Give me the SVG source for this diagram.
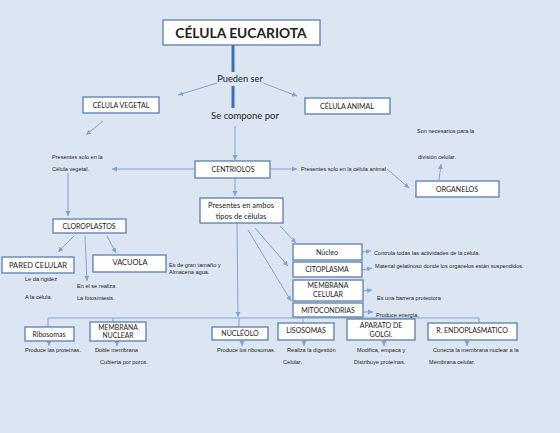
<svg xmlns="http://www.w3.org/2000/svg" width="560" height="433" viewBox="0 0 560 433">
<defs>
<style>
.bg{fill:#dce6f2}
.box{fill:#ffffff;stroke:#5a7fae;stroke-width:1.3}
.t{font-family:Lato,"Open Sans","Liberation Sans",sans-serif;fill:#222;text-anchor:middle}
.s{font-family:"Liberation Sans",Arial,sans-serif;font-size:5.6px;fill:#222}
.c{fill:none;stroke:#7ea4d4;stroke-width:1}
.k{fill:none;stroke:#3f6fb0;stroke-width:3}
</style>
<marker id="a" markerWidth="6" markerHeight="6" refX="5" refY="3" orient="auto" markerUnits="userSpaceOnUse">
<path d="M0,0.5 L5,3 L0,5.5 Z" fill="#7ea4d4"/>
</marker>
</defs>
<rect class="bg" x="0" y="0" width="560" height="433"/>

<g id="connectors">
<line class="k" x1="233" y1="45" x2="233" y2="72"/>
<line class="k" x1="233" y1="86" x2="233" y2="108"/>
<line class="c" x1="217" y1="83" x2="178" y2="95" marker-end="url(#a)"/>
<line class="c" x1="263" y1="83" x2="297" y2="96" marker-end="url(#a)"/>
<line class="c" x1="103" y1="121" x2="86" y2="135" marker-end="url(#a)"/>
<line class="c" x1="235" y1="126" x2="235" y2="160" marker-end="url(#a)"/>
<line class="c" x1="195" y1="169" x2="112" y2="169" marker-end="url(#a)"/>
<line class="c" x1="270" y1="169" x2="297" y2="169" marker-end="url(#a)"/>
<line class="c" x1="387" y1="169" x2="409" y2="188" marker-end="url(#a)"/>
<line class="c" x1="439" y1="180" x2="441" y2="164" marker-end="url(#a)"/>
<line class="c" x1="68" y1="173" x2="68" y2="216" marker-end="url(#a)"/>
<line class="c" x1="235" y1="178" x2="235" y2="196" marker-end="url(#a)"/>
<line class="c" x1="74" y1="236" x2="58" y2="252" marker-end="url(#a)"/>
<line class="c" x1="85" y1="236" x2="87" y2="281" marker-end="url(#a)"/>
<line class="c" x1="107" y1="236" x2="116" y2="253" marker-end="url(#a)"/>
<line class="c" x1="280" y1="226" x2="296" y2="243" marker-end="url(#a)"/>
<line class="c" x1="255" y1="228" x2="288" y2="266" marker-end="url(#a)"/>
<line class="c" x1="248" y1="230" x2="291" y2="301" marker-end="url(#a)"/>
<line class="c" x1="237" y1="223" x2="238" y2="317" marker-end="url(#a)"/>
<line class="c" x1="362" y1="252" x2="371" y2="251" marker-end="url(#a)"/>
<line class="c" x1="362" y1="270" x2="372" y2="268" marker-end="url(#a)"/>
<line class="c" x1="363" y1="291" x2="372" y2="290" marker-end="url(#a)"/>
<line class="c" x1="363" y1="312" x2="373" y2="312" marker-end="url(#a)"/>
<line class="c" x1="48" y1="318" x2="479" y2="318"/>
<line class="c" x1="48" y1="318" x2="48" y2="327"/>
<line class="c" x1="113" y1="318" x2="113" y2="322"/>
<line class="c" x1="239" y1="318" x2="239" y2="327"/>
<line class="c" x1="303" y1="318" x2="303" y2="323"/>
<line class="c" x1="479" y1="318" x2="479" y2="323"/>
<line class="c" x1="49" y1="341" x2="49" y2="346" marker-end="url(#a)"/>
<line class="c" x1="117" y1="341" x2="117" y2="346" marker-end="url(#a)"/>
<line class="c" x1="242" y1="340" x2="242" y2="346" marker-end="url(#a)"/>
<line class="c" x1="304" y1="340" x2="304" y2="346" marker-end="url(#a)"/>
<line class="c" x1="384" y1="340" x2="384" y2="346" marker-end="url(#a)"/>
<line class="c" x1="467" y1="340" x2="467" y2="346" marker-end="url(#a)"/>
</g>

<g id="title"><rect class="box" x="163" y="20" width="157" height="25"/><text class="t" x="241" y="38" font-size="13.8" font-weight="bold">CÉLULA EUCARIOTA</text></g>
<g id="pueden"><text class="t" x="240" y="82" font-size="9.3">Pueden ser</text></g>
<g id="secompone"><text class="t" x="245" y="119" font-size="9.5">Se compone por</text></g>
<g id="vegetal"><rect class="box" x="83" y="97" width="76" height="16"/><text class="t" x="121" y="108" font-size="7">CÉLULA VEGETAL</text></g>
<g id="animal"><rect class="box" x="305" y="98" width="85" height="16"/><text class="t" x="347" y="109" font-size="7">CÉLULA ANIMAL</text></g>
<g id="centriolos"><rect class="box" x="195" y="161" width="75" height="17"/><text class="t" x="233" y="172" font-size="7">CENTRIOLOS</text></g>
<g id="organelos"><rect class="box" x="416" y="181" width="83" height="16"/><text class="t" x="457" y="192" font-size="7">ORGANELOS</text></g>
<g id="ambos"><rect class="box" x="200" y="198" width="83" height="25"/><text class="t" x="241" y="208" font-size="7.5">Presentes en ambos</text><text class="t" x="241" y="219" font-size="7.5">tipos de células</text></g>
<g id="cloroplastos"><rect class="box" x="53" y="219" width="73" height="14"/><text class="t" x="89" y="229" font-size="7">CLOROPLASTOS</text></g>
<g id="pared"><rect class="box" x="2" y="257" width="72" height="16"/><text class="t" x="38" y="268" font-size="7.5">PARED CELULAR</text></g>
<g id="vacuola"><rect class="box" x="93" y="255" width="73" height="17"/><text class="t" x="130" y="265" font-size="7.5">VACUOLA</text></g>
<g id="nucleo"><rect class="box" x="293" y="244" width="69" height="16"/><text class="t" x="327" y="255" font-size="7">Núcleo</text></g>
<g id="citoplasma"><rect class="box" x="293" y="262" width="69" height="15"/><text class="t" x="327" y="272" font-size="7">CITOPLASMA</text></g>
<g id="membrana"><rect class="box" x="293" y="280" width="70" height="21"/><text class="t" x="328" y="288" font-size="7">MEMBRANA</text><text class="t" x="328" y="297" font-size="7">CELULAR</text></g>
<g id="mitocondrias"><rect class="box" x="293" y="303" width="70" height="14"/><text class="t" x="328" y="313" font-size="7">MITOCONDRIAS</text></g>
<g id="ribosomas"><rect class="box" x="25" y="327" width="49" height="14"/><text class="t" x="49" y="337" font-size="7">Ribosomas</text></g>
<g id="membrananuclear"><rect class="box" x="90" y="322" width="56" height="19"/><text class="t" x="118" y="330" font-size="6.8">MEMBRANA</text><text class="t" x="118" y="338" font-size="6.8">NUCLEAR</text></g>
<g id="nucleolo"><rect class="box" x="212" y="327" width="56" height="13"/><text class="t" x="240" y="336" font-size="7">NUCLÉOLO</text></g>
<g id="lisosomas"><rect class="box" x="278" y="323" width="56" height="17"/><text class="t" x="306" y="333" font-size="7">LISOSOMAS</text></g>
<g id="golgi"><rect class="box" x="347" y="319" width="68" height="21"/><text class="t" x="381" y="328" font-size="7">APARATO DE</text><text class="t" x="381" y="337" font-size="7">GOLGI.</text></g>
<g id="reticulo"><rect class="box" x="428" y="323" width="89" height="17"/><text class="t" x="472" y="333" font-size="7">R. ENDOPLASMATICO</text></g>

<g id="texts">
<text class="s" x="52" y="159">Presentes solo en la</text>
<text class="s" x="52" y="171">Célula vegetal.</text>
<text class="s" x="301" y="171">Presentes solo en la célula animal</text>
<text class="s" x="417" y="133">Son necesarios para la</text>
<text class="s" x="418" y="159">división celular.</text>
<text class="s" x="169" y="267">Es de gran tamaño y</text>
<text class="s" x="169" y="274">Almacena agua.</text>
<text class="s" x="25" y="281">Le da rigidez</text>
<text class="s" x="25" y="299">A la célula.</text>
<text class="s" x="77" y="288">En el se realiza</text>
<text class="s" x="77" y="300">La fotosíntesis.</text>
<text class="s" x="374" y="255">Controla todas las actividades de la célula.</text>
<text class="s" x="375" y="268">Material gelatinoso donde los organelos están suspendidos.</text>
<text class="s" x="377" y="300">Es una barrera protectora</text>
<text class="s" x="376" y="317">Produce energía.</text>
<text class="s" x="25" y="352">Produce las proteínas.</text>
<text class="s" x="95" y="352">Doble membrana</text>
<text class="s" x="100" y="364">Cubierta por poros.</text>
<text class="s" x="217" y="352">Produce los ribosomas.</text>
<text class="s" x="287" y="352">Realiza la digestión</text>
<text class="s" x="283" y="364">Celular.</text>
<text class="s" x="357" y="352">Modifica, empaca y</text>
<text class="s" x="354" y="364">Distribuye proteínas.</text>
<text class="s" x="433" y="352">Conecta la membrana nuclear a la</text>
<text class="s" x="429" y="364">Membrana celular.</text>
</g>
</svg>
